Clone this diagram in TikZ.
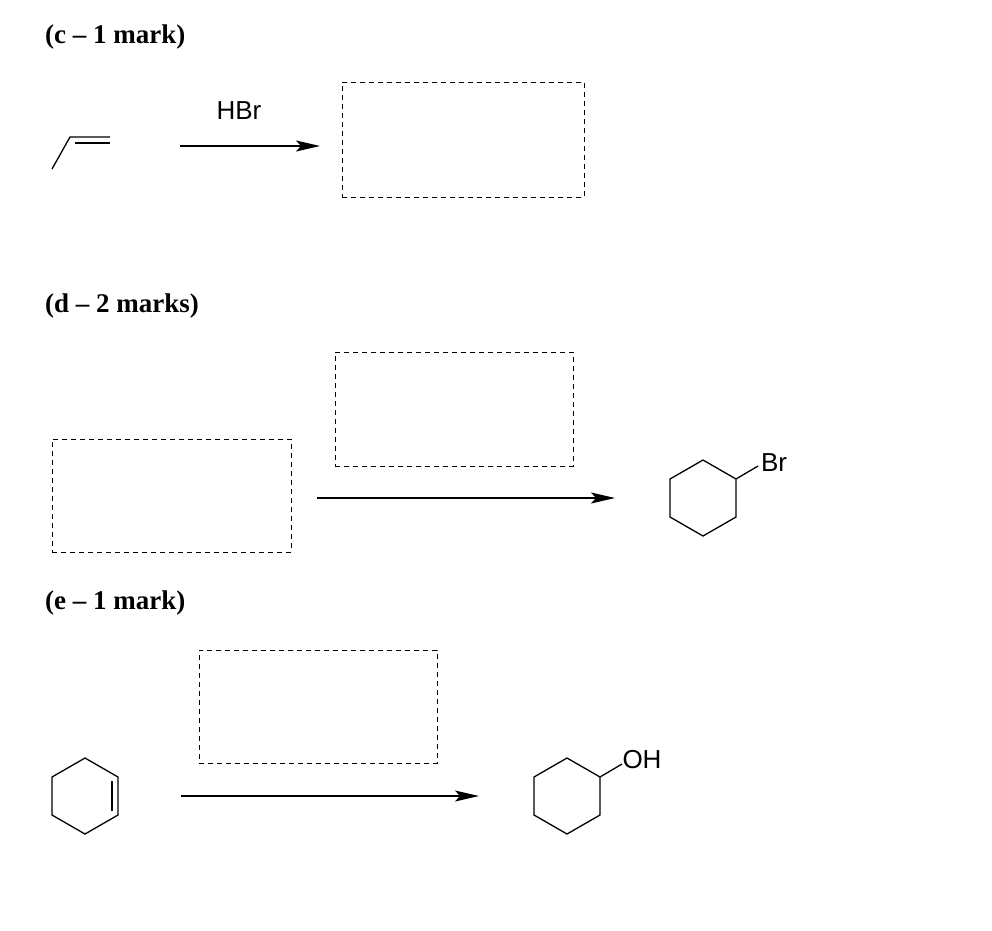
\documentclass[tikz,border=0pt]{standalone}
\usepackage{fontspec}
\setmainfont{Liberation Serif}
\setsansfont{Liberation Sans}
\usetikzlibrary{arrows.meta}
\begin{document}
\begin{tikzpicture}[x=1pt,y=-1pt,
  lbl/.style={font=\fontsize{27}{30}\selectfont\bfseries,anchor=west,inner sep=0},
  atom/.style={font=\sffamily\fontsize{26}{29}\selectfont,inner sep=0},
  box/.style={draw,line width=1pt,dash pattern=on 5pt off 4pt},
  bond/.style={line width=1.3pt},
  rxn/.style={line width=1.3pt,-{Stealth[length=24pt,width=11pt,inset=5pt]}}]
\useasboundingbox (0,0) rectangle (992,930);
% (c)
\node[lbl] (lc) at (45,37) {(c -- 1 mark)};
\coordinate (p1) at (52,169);
\coordinate (p2) at (70,137);
\coordinate (p3) at (110,137);
\draw[bond] (p1) -- (p2) -- (p3);
\draw[bond] (75,143) -- (110,143);
\coordinate (a1s) at (180,146);
\coordinate (a1e) at (320,146);
\draw[rxn] (a1s) -- (a1e);
\node[atom] (hbr) at (239,111) {HBr};
\node[box,minimum width=242pt,minimum height=115pt] (b1) at (463,139.5) {};
% (d)
\node[lbl] (ld) at (45,306) {(d -- 2 marks)};
\node[box,minimum width=238pt,minimum height=114pt] (b2) at (454,409) {};
\node[box,minimum width=239pt,minimum height=113pt] (b3) at (171.5,495.5) {};
\coordinate (a2s) at (317,498);
\coordinate (a2e) at (615,498);
\draw[rxn] (a2s) -- (a2e);
\draw[bond] (703,460) -- (736,479) -- (736,517) -- (703,536) -- (670,517) -- (670,479) -- cycle;
\draw[bond] (736,479) -- (758,466);
\node[atom] (br) at (774,463) {Br};
% (e)
\node[lbl] (le) at (45,603) {(e -- 1 mark)};
\node[box,minimum width=238pt,minimum height=113pt] (b4) at (318,706.5) {};
\coordinate (a3s) at (181,796);
\coordinate (a3e) at (479,796);
\draw[rxn] (a3s) -- (a3e);
\draw[bond] (85,758) -- (118,777) -- (118,815) -- (85,834) -- (52,815) -- (52,777) -- cycle;
\draw[bond] (112,781) -- (112,811);
\draw[bond] (567,758) -- (600,777) -- (600,815) -- (567,834) -- (534,815) -- (534,777) -- cycle;
\draw[bond] (600,777) -- (622,764);
\node[atom] (oh) at (642,760) {OH};
\end{tikzpicture}
\end{document}
